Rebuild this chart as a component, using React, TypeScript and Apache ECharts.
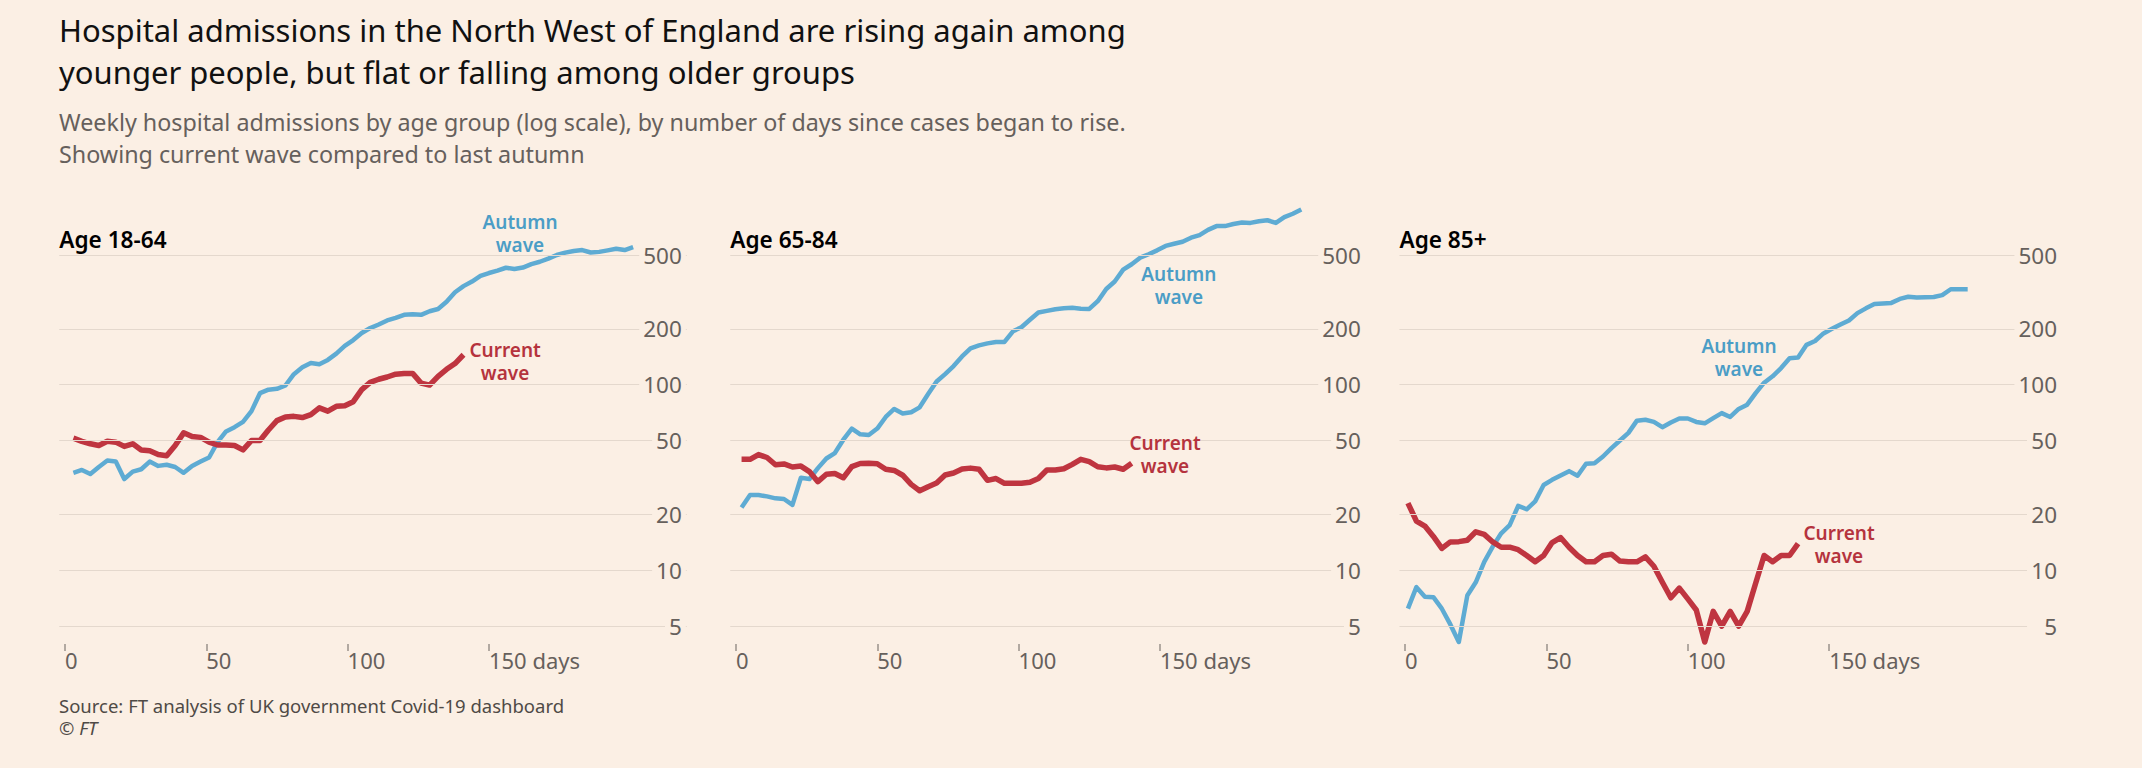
import React, { useEffect, useRef } from "react";
import * as echarts from "echarts";

// Panels: one per age group
const PANEL_TITLES = ["Age 18-64", "Age 65-84", "Age 85+"];
// First day of each panel's series, and spacing of the readings (days)
const START_DAY = [3, 2, 1];
const DAY_STEP = 3;

const X_TICKS = [0, 50, 100, 150];
const Y_TICKS = [5, 10, 20, 50, 100, 200, 500];

// Weekly admissions, last autumn's wave
const AUTUMN_18_64 = [
  33.5, 34.7, 33, 36, 39, 38.5, 31, 34, 35, 38.5, 36.5, 37, 36, 33.5, 36.5, 38.5, 40.5, 49, 56, 59,
  63, 72, 90, 94, 95, 99, 114, 124, 131, 129, 136, 147, 162, 174, 190, 202, 211, 222, 229, 238,
  240, 238, 249, 256, 280, 315, 340, 360, 386, 400, 412, 427, 420, 428, 447, 460, 478, 500, 515, 526,
  532, 516, 520, 530, 541, 532, 552,
];
const AUTUMN_65_84 = [
  21.8, 25.4, 25.4, 25, 24.4, 24.2, 22.5, 31.5, 31, 35.5, 40, 42.8, 50.5, 58, 54, 53.5, 58, 67, 74, 70,
  71, 75.5, 89, 104, 114, 126, 142, 157, 163, 167, 170, 170, 194, 204, 224, 245, 250, 255, 258, 260,
  257, 256, 282, 328, 360, 417, 446, 484, 505, 530, 560, 575, 590, 620, 640, 683, 716, 716, 735, 749,
  745, 760, 770, 745, 800, 835, 880,
];
const AUTUMN_85_PLUS = [
  6.2, 8.1, 7.2, 7.15, 6.2, 5.1, 4.1, 7.3, 8.6, 11.1, 13.4, 15.8, 17.5, 22.2, 21.3, 23.5, 28.8, 30.7, 32.4, 34.2,
  32.3, 37.5, 37.7, 41, 45.5, 50, 55, 64, 64.7, 63, 59, 62.5, 65.7, 65.7, 63, 61.9, 66, 70.3, 67, 74,
  78, 90, 102.5, 111, 123, 139, 140, 164, 172, 189, 200, 211, 222, 243, 258, 272, 274, 276, 290, 298,
  295, 296, 297, 304, 327, 327, 327,
];

// Weekly admissions, current wave
const CURRENT_18_64 = [
  51.5, 49.5, 48, 47, 49.5, 49, 46.5, 48, 44.5, 44, 42, 41.4, 47, 55, 52.5, 52, 49, 47.3, 47.3, 47,
  44.5, 50, 50, 57, 64, 67, 67.5, 66.5, 69, 75, 72, 76.5, 77, 81, 94, 103, 107, 110, 114, 115,
  115, 102, 99.5, 111, 121, 130, 145,
];
const CURRENT_65_84 = [
  39.6, 39.6, 42, 40.5, 37, 37.4, 36, 36.4, 34, 30, 32.9, 33.2, 31.5, 36.2, 37.6, 37.7, 37.5, 35, 34.5, 32.5,
  29, 26.8, 28.2, 29.5, 32.6, 33.4, 35.1, 35.5, 35, 30.5, 31.2, 29.4, 29.4, 29.4, 29.8, 31.2, 34.7, 34.7, 35.2, 37.2,
  39.6, 38.5, 36.1, 35.6, 36, 35, 37.7,
];
const CURRENT_85_PLUS = [
  23, 18.4, 17.3, 15.2, 13.1, 14.2, 14.25, 14.5, 16.1, 15.6, 14.2, 13.3, 13.3, 12.9, 12, 11.1, 12, 14.1, 15, 13.3,
  12, 11.1, 11.1, 12, 12.2, 11.2, 11.1, 11.1, 11.8, 10.5, 8.6, 7.1, 8, 7, 6.1, 4.1, 6, 5, 6, 5,
  6, 8.5, 12, 11.1, 12, 12, 13.9,
];

const AUTUMN = [AUTUMN_18_64, AUTUMN_65_84, AUTUMN_85_PLUS];
const CURRENT = [CURRENT_18_64, CURRENT_65_84, CURRENT_85_PLUS];

// Where the in-chart labels sit, in [day, admissions]
const AUTUMN_LABEL_AT = [[161, 657], [156.7, 341], [118.1, 140]];
const CURRENT_LABEL_AT = [[155.7, 134], [151.8, 41.8], [153.5, 13.8]];

// Styling and layout
const BG = "#fbefe4";
const BLUE = "#5eabd3";
const BLUE_TEXT = "#4b9dc6";
const RED = "#bf3540";
const RED_TEXT = "#b5333d";
const GRID_LINE = "#e4d8cd";
const TICK_TEXT = "#66605c";
const FONT = "'Noto Sans', sans-serif";

const X_MIN = -2;
const X_MAX = 220;
const Y_MIN = 4;
const Y_MAX = 1000;
const PX_PER_DAY = 2.827;
const DAY_ZERO_X = [64.9, 735.9, 1405.1];
const GRID_TOP = 199.2;
const GRID_HEIGHT = 444.8;
const Y_LABEL_OFFSET = [-1, 7, 34];

function pairs(values: number[], start: number) {
  return values.map((v, i) => [start + i * DAY_STEP, v]);
}

function buildOption() {
  const grid: any[] = [];
  const xAxis: any[] = [];
  const yAxis: any[] = [];
  const series: any[] = [];

  for (let p = 0; p < 3; p++) {
    grid.push({
      left: DAY_ZERO_X[p] + X_MIN * PX_PER_DAY,
      top: GRID_TOP,
      width: (X_MAX - X_MIN) * PX_PER_DAY,
      height: GRID_HEIGHT,
      containLabel: false,
    });
    xAxis.push({
      type: "value",
      gridIndex: p,
      min: X_MIN,
      max: X_MAX,
      axisLine: { show: false },
      splitLine: { show: false },
      axisTick: {
        show: true,
        customValues: X_TICKS,
        length: 7,
        lineStyle: { color: "#9a928b", width: 1.5 },
      },
      axisLabel: {
        customValues: X_TICKS,
        formatter: (v: number) => (v === 150 ? "150 days" : String(v)),
        align: "left",
        margin: 5,
        color: TICK_TEXT,
        fontSize: 22,
        fontFamily: FONT,
      },
    });
    yAxis.push({
      type: "log",
      logBase: 10,
      gridIndex: p,
      min: Y_MIN,
      max: Y_MAX,
      show: false,
    });

    // horizontal gridlines with their value labels
    series.push({
      type: "line",
      xAxisIndex: p,
      yAxisIndex: p,
      data: [],
      silent: true,
      z: 1,
      markLine: {
        silent: true,
        symbol: ["none", "none"],
        lineStyle: { color: GRID_LINE, width: 1.2, type: "solid" },
        emphasis: { disabled: true },
        label: {
          show: true,
          position: "end",
          formatter: "{c}",
          align: "right",
          distance: Y_LABEL_OFFSET[p],
          color: TICK_TEXT,
          fontSize: 22.5,
          fontFamily: FONT,
          backgroundColor: BG,
          padding: [1, 4],
        },
        data: Y_TICKS.map((v) => ({ yAxis: v })),
      },
    });

    series.push({
      type: "line",
      name: "Autumn wave",
      xAxisIndex: p,
      yAxisIndex: p,
      data: pairs(AUTUMN[p], START_DAY[p]),
      showSymbol: false,
      symbol: "none",
      lineStyle: { color: BLUE, width: 4.5, join: "round" },
      z: 3,
      markPoint: {
        silent: true,
        symbol: "circle",
        symbolSize: 0,
        label: {
          show: true,
          position: "inside",
          formatter: "Autumn\nwave",
          color: BLUE_TEXT,
          fontSize: 19,
          fontWeight: 600,
          lineHeight: 23,
          fontFamily: FONT,
          align: "center",
        },
        data: [{ coord: AUTUMN_LABEL_AT[p] }],
      },
    });

    series.push({
      type: "line",
      name: "Current wave",
      xAxisIndex: p,
      yAxisIndex: p,
      data: pairs(CURRENT[p], START_DAY[p]),
      showSymbol: false,
      symbol: "none",
      lineStyle: { color: RED, width: 5.5, join: "round" },
      z: 4,
      markPoint: {
        silent: true,
        symbol: "circle",
        symbolSize: 0,
        label: {
          show: true,
          position: "inside",
          formatter: "Current\nwave",
          color: RED_TEXT,
          fontSize: 19,
          fontWeight: 600,
          lineHeight: 23,
          fontFamily: FONT,
          align: "center",
        },
        data: [{ coord: CURRENT_LABEL_AT[p] }],
      },
    });
  }

  const text = (t: string, x: number, y: number, size: number, fill: string, weight: any = 400, extra: any = {}) => ({
    type: "text",
    x,
    y,
    silent: true,
    style: {
      text: t,
      fill,
      fontSize: size,
      fontWeight: weight,
      fontFamily: FONT,
      verticalAlign: "middle",
      align: "left",
      ...extra,
    },
  });

  const graphic: any[] = [
    text("Hospital admissions in the North West of England are rising again among", 59, 30, 31, "#111111"),
    text("younger people, but flat or falling among older groups", 59, 72.4, 31, "#111111"),
    text("Weekly hospital admissions by age group (log scale), by number of days since cases began to rise.", 59, 121.6, 23.3, TICK_TEXT),
    text("Showing current wave compared to last autumn", 59, 154.4, 23.3, TICK_TEXT),
    ...PANEL_TITLES.map((t, p) => text(t, DAY_ZERO_X[p] + X_MIN * PX_PER_DAY, 239, 22.6, "#000000", 600)),
    text("Source: FT analysis of UK government Covid-19 dashboard", 59, 705, 18.5, "#4f4a46"),
    text("© {i|FT}", 59, 727, 18.5, "#4f4a46", 400, {
      rich: { i: { fontStyle: "italic", fontSize: 18.5, fontFamily: FONT, fill: "#4f4a46" } },
    }),
  ];

  return {
    animation: false,
    backgroundColor: BG,
    grid,
    xAxis,
    yAxis,
    series,
    graphic,
  };
}

export default function App() {
  const ref = useRef<HTMLDivElement>(null);
  useEffect(() => {
    if (!ref.current) return;
    const chart = echarts.init(ref.current, null, { renderer: "svg" });
    chart.setOption(buildOption() as any);
    return () => chart.dispose();
  }, []);
  return (
    <div
      ref={ref}
      style={{ position: "fixed", left: 0, top: 0, width: 2142, height: 768 }}
    />
  );
}
